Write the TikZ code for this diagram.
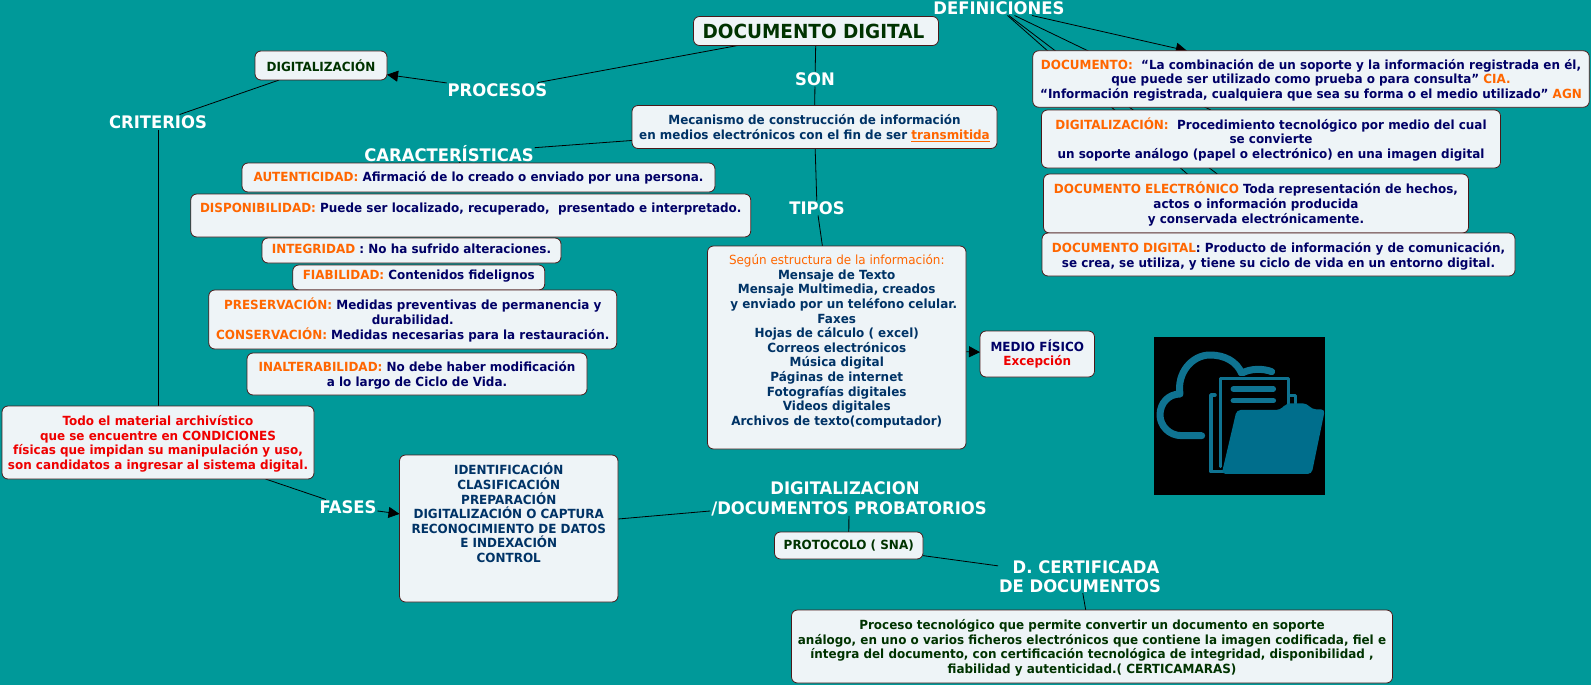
\documentclass[tikz,border=0pt]{standalone}
\usepackage{fontspec}
\setmainfont{DejaVu Sans}[FakeStretch=0.95]
\usetikzlibrary{backgrounds,arrows.meta}
\definecolor{bgteal}{HTML}{009999}
\definecolor{boxfill}{HTML}{EEF4F7}
\definecolor{boxline}{HTML}{4A1A1A}
\definecolor{orangetxt}{HTML}{FF6600}
\definecolor{navytxt}{HTML}{000066}
\definecolor{bluetxt}{HTML}{003366}
\definecolor{greentxt}{HTML}{003300}
\definecolor{redtxt}{HTML}{EE0000}
\definecolor{iconblue}{HTML}{0F7391}
\definecolor{iconfold}{HTML}{006E8C}
\newcommand{\og}[1]{\textcolor{orangetxt}{#1}}
\newcommand{\lowtop}{\rule{0pt}{12.6pt}}
\newcommand{\lowertop}{\rule{0pt}{14pt}}
\newcommand{\raisebase}[1]{\rule[-#1]{0pt}{#1}}
\tikzset{
  mapbox/.style={draw=boxline,fill=boxfill,rounded corners=6pt,line width=.8pt,align=center,inner sep=0pt,outer sep=0pt,
    font=\fontsize{12.6}{14.6}\selectfont\bfseries,text=navytxt},
  maplabel/.style={align=center,inner xsep=1pt,inner ysep=0pt,outer sep=0pt,text=white,minimum height=15pt,
    font=\fontsize{17.3}{19.3}\selectfont\bfseries},
  link/.style={draw=black,line width=.8pt},
  arrowlink/.style={link,-{Triangle[length=11pt,width=11pt]}}
}
\begin{document}
\begin{tikzpicture}[x=1pt,y=-1pt]
\useasboundingbox (0,0) rectangle (1591,685);
% boxes
\node[mapbox,text=greentxt,minimum width=245pt,minimum height=29pt,font=\fontsize{19.4}{20}\selectfont\bfseries] (docdig) at (816,31) {DOCUMENTO DIGITAL\hspace*{5pt}};
\node[mapbox,text=greentxt,minimum width=132pt,minimum height=29pt] (digi) at (321,65.5) {DIGITALIZACIÓN};
\node[mapbox,text=bluetxt,minimum width=365pt,minimum height=43pt] (meca) at (814.5,127) {\lowtop Mecanismo de construcción de información\\en medios electrónicos con el fin de ser \og{\underline{transmitida}}};
\node[mapbox,minimum width=473pt,minimum height=29pt] (aut) at (478.5,177.5) {\og{AUTENTICIDAD:} Afirmació de lo creado o enviado por una persona.};
\node[mapbox,minimum width=560pt,minimum height=43pt] (disp) at (470.75,215.5) {\lowtop\og{DISPONIBILIDAD:} Puede ser localizado, recuperado,\ \ presentado e interpretado.\\\strut};
\node[mapbox,minimum width=299pt,minimum height=25pt] (inte) at (411.5,250.5) {\raisebase{4pt}\og{INTEGRIDAD} : No ha sufrido alteraciones.};
\node[mapbox,minimum width=252pt,minimum height=25pt] (fiab) at (418.75,277.5) {\raisebase{6pt}\og{FIABILIDAD:} Contenidos fidelignos};
\node[mapbox,minimum width=408pt,minimum height=59pt] (pres) at (412.75,319.5) {\lowtop\og{PRESERVACIÓN:} Medidas preventivas de permanencia y\\durabilidad.\\\og{CONSERVACIÓN:} Medidas necesarias para la restauración.};
\node[mapbox,minimum width=340pt,minimum height=42pt] (inal) at (417,374) {\lowtop\og{INALTERABILIDAD:} No debe haber modificación\\a lo largo de Ciclo de Vida.};
\node[mapbox,text=redtxt,minimum width=312pt,minimum height=73pt] (todo) at (158,442.5) {\lowtop Todo el material archivístico\\que se encuentre en CONDICIONES\\físicas que impidan su manipulación y uso,\\son candidatos a ingresar al sistema digital.};
\node[mapbox,text=bluetxt,minimum width=218.5pt,minimum height=147pt] (fasesb) at (508.75,528.5) {\lowertop IDENTIFICACIÓN\\CLASIFICACIÓN\\PREPARACIÓN\\DIGITALIZACIÓN O CAPTURA\\RECONOCIMIENTO DE DATOS\hspace*{4pt}\\E INDEXACIÓN\\CONTROL\\\strut\\\strut};
\node[mapbox,text=bluetxt,minimum width=258.5pt,minimum height=203pt] (segun) at (836.75,347.5) {\lowertop\og{\mdseries Según estructura de la información:}\\Mensaje de Texto\\Mensaje Multimedia, creados\\\hspace*{14pt}y enviado por un teléfono celular.\\Faxes\\Hojas de cálculo ( excel)\\Correos electrónicos\\Música digital\\Páginas de internet\\Fotografías digitales\\Videos digitales\\Archivos de texto(computador)\\\strut};
\node[mapbox,minimum width=114.5pt,minimum height=46pt] (medio) at (1037.25,354) {MEDIO FÍSICO\\\textcolor{redtxt}{Excepción}};
\node[mapbox,text=greentxt,minimum width=148.5pt,minimum height=27pt] (proto) at (848.75,545.5) {PROTOCOLO ( SNA)};
\node[mapbox,text=greentxt,minimum width=601pt,minimum height=73pt] (proc) at (1092,646.5) {\lowtop Proceso tecnológico que permite convertir un documento en soporte\\análogo, en uno o varios ficheros electrónicos que contiene la imagen codificada, fiel e\\íntegra del documento, con certificación tecnológica de integridad, disponibilidad ,\\fiabilidad y autenticidad.( CERTICAMARAS)};
\node[mapbox,minimum width=556.5pt,minimum height=56.5pt] (defdoc) at (1311,79) {\lowtop\og{DOCUMENTO:}\ \ “La combinación de un soporte y la información registrada en él,\\que puede ser utilizado como prueba o para consulta” \og{CIA.}\\“Información registrada, cualquiera que sea su forma o el medio utilizado” \og{AGN}};
\node[mapbox,minimum width=459pt,minimum height=58pt] (defdigi) at (1271,139) {\lowtop\og{DIGITALIZACIÓN:}\ \ Procedimiento tecnológico por medio del cual\\se convierte\\un soporte análogo (papel o electrónico) en una imagen digital};
\node[mapbox,minimum width=425pt,minimum height=59pt] (defelec) at (1256,203.5) {\lowtop\og{DOCUMENTO ELECTRÓNICO} Toda representación de hechos,\\actos o información producida\\y conservada electrónicamente.};
\node[mapbox,minimum width=473pt,minimum height=43pt] (defdd) at (1278.5,254.5) {\lowertop\og{DOCUMENTO DIGITAL}: Producto de información y de comunicación,\\se crea, se utiliza, y tiene su ciclo de vida en un entorno digital.};
% labels
\node[maplabel] (ldef) at (999,8) {DEFINICIONES};
\node[maplabel] (lproc) at (497.5,90) {PROCESOS};
\node[maplabel] (lcrit) at (158,122) {CRITERIOS};
\node[maplabel] (lcar) at (449,154) {CARACTERÍSTICAS};
\node[maplabel] (lson) at (815,79) {SON};
\node[maplabel] (ltip) at (817,208) {TIPOS};
\node[maplabel] (lfas) at (348,507) {FASES};
\node[maplabel] (lprob) at (849,499) {DIGITALIZACION\hspace*{8pt}\\/DOCUMENTOS PROBATORIOS};
\node[maplabel] (lcert) at (1080,577) {\hspace*{12pt}D. CERTIFICADA\\DE DOCUMENTOS};
% connectors and background
\begin{scope}[on background layer]
\fill[bgteal] (0,0) rectangle (1591,685);
\draw[link] (docdig) -- (lproc);
\draw[arrowlink] (lproc) -- (digi);
\draw[link] (digi) -- (lcrit);
\draw[link] (lcrit) -- (todo);
\draw[link] (todo) -- (lfas);
\draw[arrowlink] (lfas) -- (fasesb);
\draw[link] (fasesb) -- (lprob);
\draw[link] (lprob) -- (proto);
\draw[link] (proto) -- (lcert);
\draw[link] (lcert) -- (proc);
\draw[link] (docdig) -- (lson);
\draw[link] (lson) -- (meca);
\draw[link] (meca) -- (ltip);
\draw[link] (ltip) -- (segun);
\draw[arrowlink] (segun) -- (medio);
\draw[link] (meca) -- (lcar);
\draw[link] (lcar) -- (aut);
\draw[arrowlink] (ldef) -- (defdoc);
\draw[link] (ldef) -- (defdigi);
\draw[link] (ldef) -- (defelec);
\draw[link] (ldef) -- (defdd);
\end{scope}
% icon
\fill[black] (1154,337) rectangle (1325,495);
\begin{scope}[shift={(1130,320)},x=.3333pt,y=-.3333pt,line cap=round,line join=round]
\draw[iconblue,line width=7pt] (215,347) -- (155,347) .. controls (115,347) and (90,315) .. (90,285) .. controls (90,250) and (115,222) .. (150,222) .. controls (140,160) and (185,105) .. (240,105) .. controls (285,105) and (320,125) .. (335,160) .. controls (360,145) and (400,145) .. (425,155);
\fill[black] (262,168) rectangle (483,460);
\draw[iconblue,line width=3pt] (270,440) -- (270,175) -- (475,175) -- (475,255);
\draw[iconblue,line width=5.5pt] (310,207) -- (430,207);
\draw[iconblue,line width=5.5pt] (310,242) -- (430,242);
\draw[iconblue,line width=3.5pt] (255,225) -- (243,225) -- (243,455) -- (280,455);
\draw[iconblue,line width=3pt] (480,228) -- (497,228) -- (497,250);
\fill[iconfold,rounded corners=4pt] (320,270) -- (450,270) -- (470,250) -- (530,250) -- (546,268) -- (585,268) -- (545,462) -- (275,462) -- cycle;
\end{scope}
\end{tikzpicture}
\end{document}
